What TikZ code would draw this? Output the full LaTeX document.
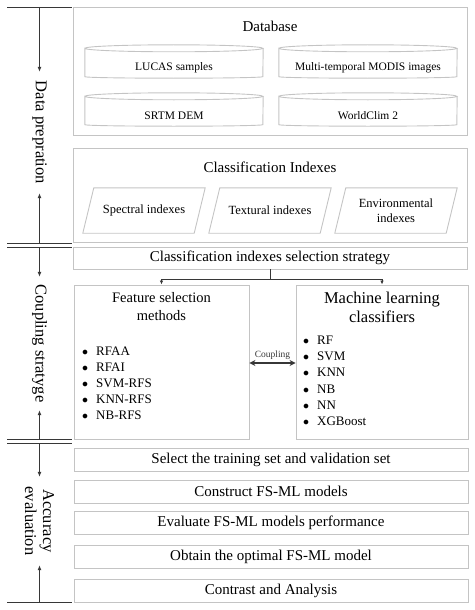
\documentclass[tikz,border=0pt]{standalone}
\usepackage{fontspec}
\setmainfont{Liberation Serif}
\usetikzlibrary{arrows.meta,positioning}
\definecolor{boxgray}{RGB}{196,196,196}
\definecolor{darkline}{RGB}{55,55,55}

\begin{document}
\begin{tikzpicture}[x=1pt,y=-1pt,
	panel/.style={draw=boxgray,line width=0.9pt,inner sep=0pt},
	bar/.style={panel,minimum width=394pt,minimum height=23pt,font=\fontsize{15}{17}\selectfont},
	cyl/.style={minimum width=178pt,minimum height=33pt,inner sep=0pt},
	slant/.style={minimum width=111pt,minimum height=45pt,inner sep=0pt,align=center,font=\fontsize{12.5}{15}\selectfont},
	side/.style={rotate=-90,inner sep=0pt,align=center,font=\fontsize{16.5}{18}\selectfont},
	item/.style={anchor=west,inner sep=0pt,font=\fontsize{13}{15}\selectfont},
	link/.style={darkline,line width=0.8pt},
	arr/.style={link,-{Latex[length=5pt,width=4pt]}}]

	\useasboundingbox (0,0) rectangle (474,610);

	% left column
	\foreach \n/\y in {l0/7,l1/243,l2/247,l3/439,l4/443,l5/602} {
		\coordinate (\n) at (39.5,\y);
		\draw[link] (7,\y) -- (72,\y);
	}
	\node[side,minimum width=121pt] (dp) at (39.5,132.5) {Data prepration};
	\node[side,minimum width=133pt] (cs) at (39.5,343.5) {Coupling stratyge};
	\node[side,minimum width=88pt] (ae) at (39.5,521) {Accuracy\\evaluation};
	\draw[arr] (l0) -- (dp.west);
	\draw[arr] (l1) -- (dp.east);
	\draw[arr] (l2) -- (cs.west);
	\draw[arr] (l3) -- (cs.east);
	\draw[arr] (l4) -- (ae.west);
	\draw[arr] (l5) -- (ae.east);

	% database
	\node[panel,minimum width=394pt,minimum height=128pt] (db) at (270,71) {};
	\node[font=\fontsize{15}{17}\selectfont] (dbt) at (270,26) {Database};
	\foreach \nm/\px/\py/\txt in {lucas/174/61.5/LUCAS samples,modis/368/61.5/Multi-temporal MODIS images,
		srtm/174/109.5/SRTM DEM,clim/368/109.5/WorldClim 2} {
		\node[cyl] (\nm) at (\px,\py) {};
		\node[font=\fontsize{11.5}{13}\selectfont] (\nm-t) at ([yshift=-6pt]\nm.center) {\txt};
		\draw[panel] ([yshift=-3.5pt]\nm.north west) arc[start angle=180,end angle=0,x radius=89pt,y radius=3.5pt]
			arc[start angle=0,end angle=-180,x radius=89pt,y radius=3.5pt]
			-- ([yshift=1.5pt]\nm.south west) arc[start angle=180,end angle=360,x radius=89pt,y radius=1.5pt]
			-- ([yshift=-3.5pt]\nm.north east);
	}

	% classification indexes
	\node[panel,minimum width=394pt,minimum height=94pt] (ci) at (270,195) {};
	\node[font=\fontsize{15}{17}\selectfont] (cit) at (270,167) {Classification Indexes};
	\foreach \nm/\px/\txt in {spec/144/Spectral indexes,textu/270/Textural indexes,env/396/Environmental\\indexes} {
		\node[slant] (\nm) at (\px,210.5) {\txt};
		\draw[panel] ([xshift=-5.5pt]\nm.south west) -- ([xshift=5.5pt]\nm.north west)
			-- ([xshift=5.5pt]\nm.north east) -- ([xshift=-5.5pt]\nm.south east) -- cycle;
	}

	% coupling
	\node[bar,minimum height=22pt] (strat) at (270,258) {Classification indexes selection strategy};
	\node[panel,minimum width=175pt,minimum height=154pt] (fs) at (161.5,362) {};
	\node[panel,minimum width=172pt,minimum height=154pt] (ml) at (382,362) {};
	\node[align=center,font=\fontsize{14.5}{18}\selectfont] (fst) at (161.5,307) {Feature selection\\methods};
	\node[align=center,font=\fontsize{16.5}{19}\selectfont] (mlt) at (382,307.5) {Machine learning\\classifiers};
	\foreach \i/\txt in {0/RFAA,1/RFAI,2/SVM-RFS,3/KNN-RFS,4/NB-RFS}
		\node[item] (fs\i) at (82,351+16*\i) {$\bullet$\hspace{8pt}\txt};
	\foreach \i/\txt in {0/RF,1/SVM,2/KNN,3/NB,4/NN,5/XGBoost}
		\node[item] (ml\i) at (303,340+16.3*\i) {$\bullet$\hspace{8pt}\txt};

	\coordinate (split) at (270,279);
	\draw[link] (strat.south) -- (split);
	\draw[link,-{Latex[length=4pt,width=3.5pt]}] (split) -| (fs.north);
	\draw[link,-{Latex[length=4pt,width=3.5pt]}] (split) -| (ml.north);
	\draw[link,line width=1.1pt,{Stealth[length=6pt,width=6pt,inset=2pt]}-{Stealth[length=6pt,width=6pt,inset=2pt]}]
		([yshift=-1pt]fs.east) -- node[above,inner sep=3pt,font=\fontsize{9.5}{11}\selectfont] (cpl) {Coupling} ([yshift=-1pt]ml.west);

	% accuracy evaluation
	\foreach \i/\py/\txt in {1/459.5/Select the training set and validation set,2/491.5/Construct FS-ML models,
		3/523/Evaluate FS-ML models performance,4/556.5/Obtain the optimal FS-ML model,5/590.5/Contrast and Analysis}
		\node[bar] (ev\i) at (271,\py) {\txt};
\end{tikzpicture}
\end{document}
